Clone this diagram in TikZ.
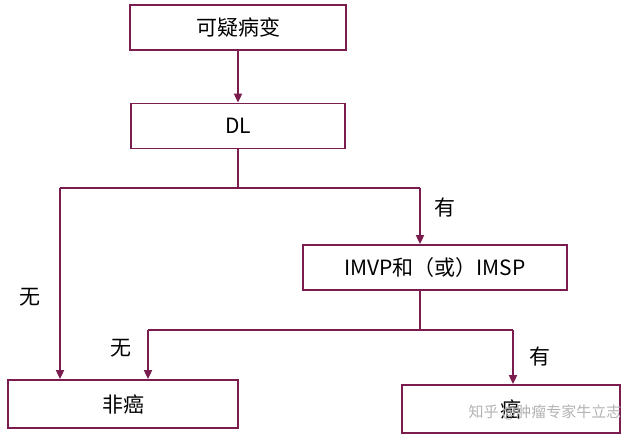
\documentclass[tikz,border=0pt]{standalone}
\usepackage{fontspec}
\setmainfont{Noto Sans CJK SC}
\usetikzlibrary{positioning,arrows.meta}
\definecolor{plum}{RGB}{122,28,78}
\tikzset{
  box/.style={draw=plum, line width=1.8pt, minimum height=45pt, inner sep=0pt, font=\fontsize{21}{24}\selectfont},
  link/.style={draw=plum, line width=1.8pt},
  arr/.style={link, -{Triangle[length=9pt,width=8pt]}},
  lbl/.style={font=\fontsize{21}{24}\selectfont}
}
\begin{document}
\begin{tikzpicture}[x=1pt, y=-1pt]
\useasboundingbox (0,0) rectangle (640,440);
% boxes
\node[box, minimum width=216pt] (doubt) at (238,27.5) {可疑病变};
\node[box, minimum width=214pt] (dl) at (238,126) {DL};
\node[box, minimum width=264pt] (imvp) at (435,267.5) {IMVP和（或）IMSP};
\node[box, minimum width=230pt, minimum height=48pt] (noca) at (123,404) {非癌};
\node[box, minimum width=218pt, minimum height=48pt] (ca) at (511,409) {癌};
% junctions
\coordinate (j1) at (238,188);
\coordinate (j1l) at (60,188);
\coordinate (j1r) at (420,188);
\coordinate (j2) at (420,330);
\coordinate (j2l) at (148,330);
\coordinate (j2r) at (513,330);
% connectors
\draw[arr] (doubt) -- (dl);
\draw[link] (dl) -- (j1);
\draw[link] (j1l) -- (j1r);
\draw[arr] (j1l) -- (j1l |- noca.north);
\draw[arr] (j1r) -- (j1r |- imvp.north);
\draw[link] (imvp.south -| j2) -- (j2);
\draw[link] (j2l) -- (j2r);
\draw[arr] (j2l) -- (j2l |- noca.north);
\draw[arr] (j2r) -- (j2r |- ca.north);
% labels
\node[lbl] (yes1) at (445,208) {有};
\node[lbl] (no1) at (30,297) {无};
\node[lbl] (no2) at (121,348) {无};
\node[lbl] (yes2) at (540,357) {有};
\node[font=\fontsize{15}{17}\selectfont, text=gray!60] (mark) at (545,412) {知乎 @肿瘤专家牛立志};
\end{tikzpicture}
\end{document}
